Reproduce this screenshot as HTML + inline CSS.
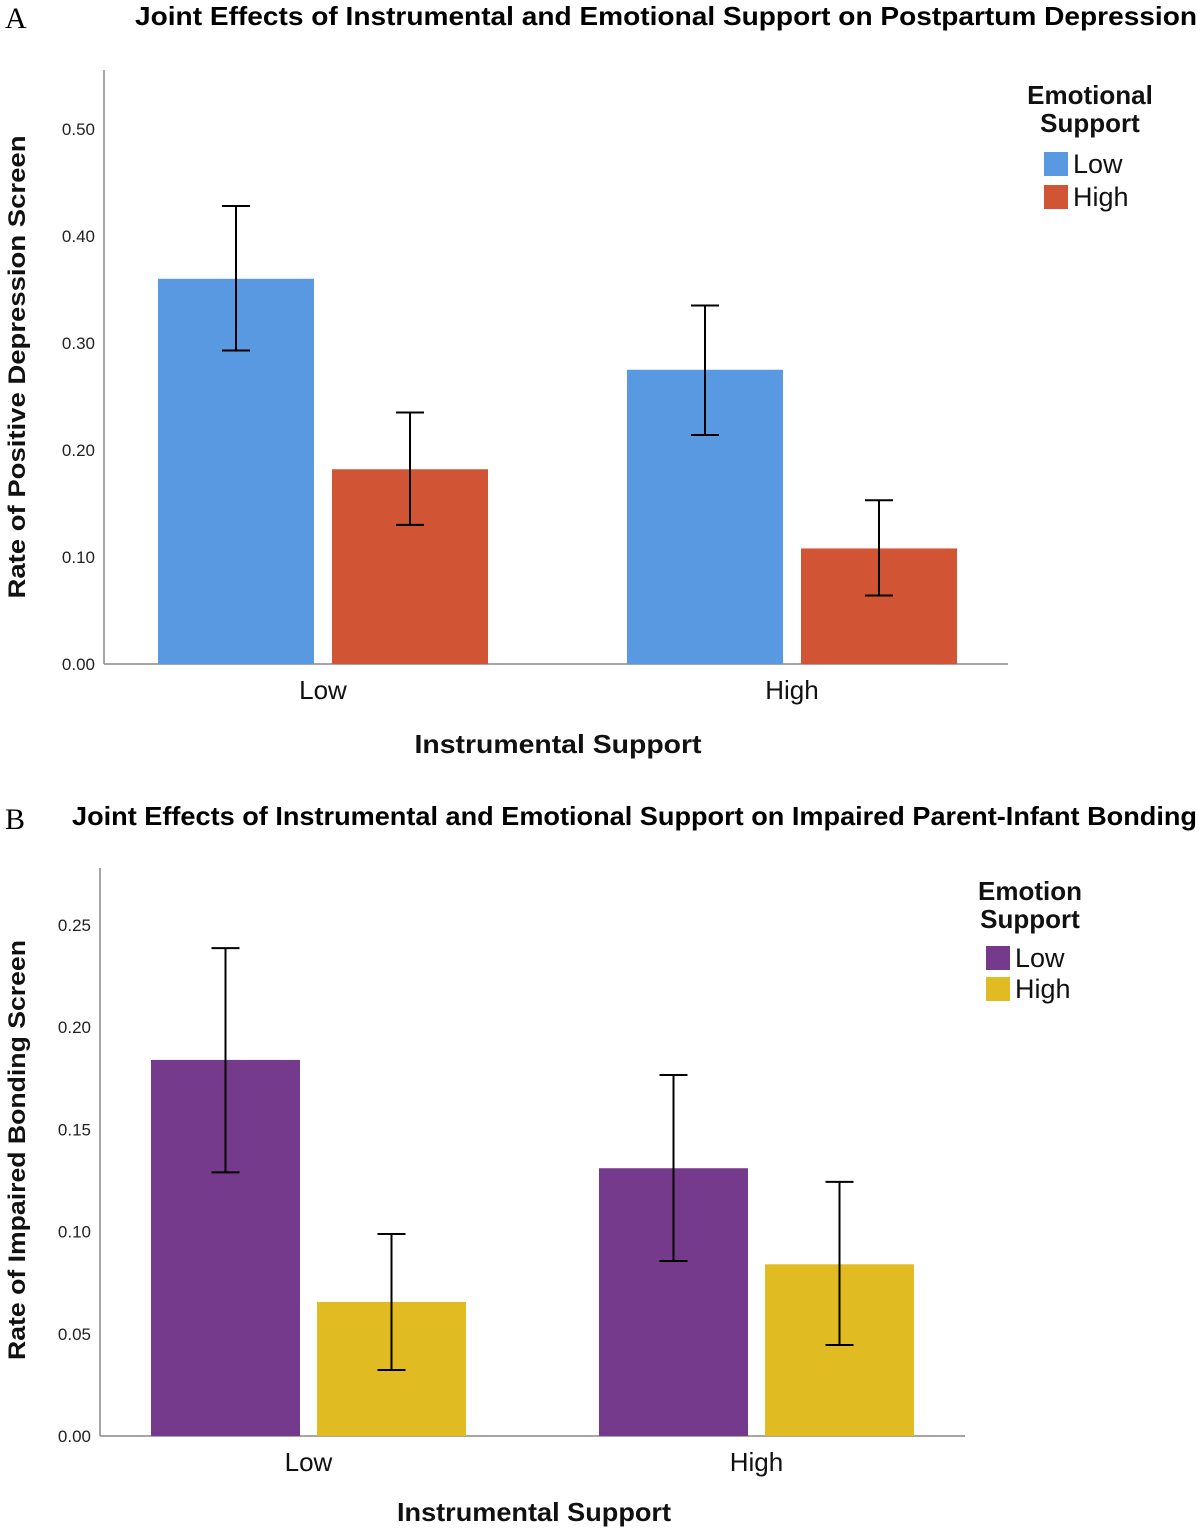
<!DOCTYPE html>
<html><head><meta charset="utf-8"><style>
body{margin:0;background:#fff;width:1200px;height:1529px;overflow:hidden}
svg{display:block;font-family:"Liberation Sans",sans-serif}
</style></head><body>
<svg id="s" width="1200" height="1529">
<text x="5" y="28" font-family="Liberation Serif,serif" font-size="30">A</text>
<text x="135" y="25" font-size="26" font-weight="bold" textLength="1062" lengthAdjust="spacingAndGlyphs">Joint Effects of Instrumental and Emotional Support on Postpartum Depression</text>
<text x="5" y="829" font-family="Liberation Serif,serif" font-size="30">B</text>
<text x="72" y="825" font-size="26" font-weight="bold" textLength="1125" lengthAdjust="spacingAndGlyphs">Joint Effects of Instrumental and Emotional Support on Impaired Parent-Infant Bonding</text>
</svg>
<script>
const categories=["Low","High"];
const seriesNames=["Low","High"];
// Chart A
const aValues=[[0.36,0.182],[0.275,0.108]];
const aUpper=[[0.428,0.235],[0.335,0.153]];
const aLower=[[0.293,0.13],[0.214,0.064]];
const aTicks=["0.00","0.10","0.20","0.30","0.40","0.50"];
// Chart B
const bValues=[[0.184,0.0656],[0.131,0.084]];
const bUpper=[[0.2387,0.0988],[0.1766,0.1243]];
const bLower=[[0.129,0.0323],[0.0856,0.0445]];
const bTicks=["0.00","0.05","0.10","0.15","0.20","0.25"];

const svg=document.getElementById('s');
const NS="http://www.w3.org/2000/svg";
function mk(tag,attrs,text){const e=document.createElementNS(NS,tag);for(const k in attrs)e.setAttribute(k,attrs[k]);if(text!==undefined)e.textContent=text;svg.appendChild(e);return e;}

function chart(c){
  const y=v=>c.base-v*c.scale;
  let e=mk('line',{x1:c.x0,y1:c.top,x2:c.x0,y2:c.base,stroke:'#888','stroke-width':1.5});
  
  
  e=mk('line',{x1:c.x0,y1:c.base,x2:c.x1,y2:c.base,stroke:'#888','stroke-width':1.5});
  
  
  c.ticks.forEach(t=>{
    e=mk('text',{x:c.x0-9,y:y(parseFloat(t))+6,'text-anchor':'end','font-size':17,fill:'#222'},t);
    
    
  });
  c.values.forEach((grp,i)=>{
    grp.forEach((v,j)=>{
      const bx=c.groupStart[i]+j*(c.bw+c.gap);
      e=mk('rect',{x:bx,y:y(v),width:c.bw,height:c.base-y(v),fill:c.colors[j]});
      
      
      const cx=bx+c.bw/2,yu=y(c.upper[i][j]),yl=y(c.lower[i][j]);
      e=mk('path',{d:`M${cx-14},${yu}H${cx+14}M${cx},${yu}V${yl}M${cx-14},${yl}H${cx+14}`,stroke:'#000','stroke-width':2,fill:'none'});
      
      
    });
    const gc=c.groupStart[i]+c.bw+c.gap/2;
    e=mk('text',{x:gc,y:c.base+35,'text-anchor':'middle','font-size':26,fill:'#111'},categories[i]);
    
    
  });
  e=mk('text',{x:c.xtX-c.xtW/2,y:c.xtY,'font-size':26,'font-weight':'bold',fill:'#111',textLength:c.xtW,lengthAdjust:'spacingAndGlyphs'},'Instrumental Support');
  
  
  e=mk('text',{x:-c.ytW/2,y:0,'font-size':24,'font-weight':'bold',fill:'#111',textLength:c.ytW,lengthAdjust:'spacingAndGlyphs',transform:`translate(25,${c.ytY}) rotate(-90)`},c.ytitle);
  
  
  c.legTitle.forEach((t,k)=>{
    e=mk('text',{x:c.legCx,y:c.legY+k*28,'text-anchor':'middle','font-size':26,'font-weight':'bold',fill:'#111'},t);
    
    
  });
  seriesNames.forEach((n,j)=>{
    const sy=c.swY+j*c.swStep;
    e=mk('rect',{x:c.swX,y:sy,width:24,height:24,fill:c.colors[j]});
    
    
    e=mk('text',{x:c.swX+29,y:sy+21,'font-size':27,fill:'#111'},n);
    
    
  });
}
chart({p:'chart-a',x0:104,x1:1008,top:70,base:664,scale:1070,ticks:aTicks,values:aValues,upper:aUpper,lower:aLower,
  groupStart:[158,627],bw:156,gap:18,colors:['#5899E2','#D15534'],xtX:558,xtW:287,xtY:753,ytitle:'Rate of Positive Depression Screen',ytW:463,ytY:367,
  legTitle:['Emotional','Support'],legCx:1090,legY:104,swX:1044,swY:152,swStep:33});
chart({p:'chart-b',x0:100,x1:965,top:868,base:1436,scale:2044,ticks:bTicks,values:bValues,upper:bUpper,lower:bLower,
  groupStart:[151,599],bw:149,gap:17,colors:['#763A8C','#E0BC22'],xtX:534,xtW:274,xtY:1521,ytitle:'Rate of Impaired Bonding Screen',ytW:420,ytY:1150,
  legTitle:['Emotion','Support'],legCx:1030,legY:900,swX:986,swY:946,swStep:31});
</script>
</body></html>
